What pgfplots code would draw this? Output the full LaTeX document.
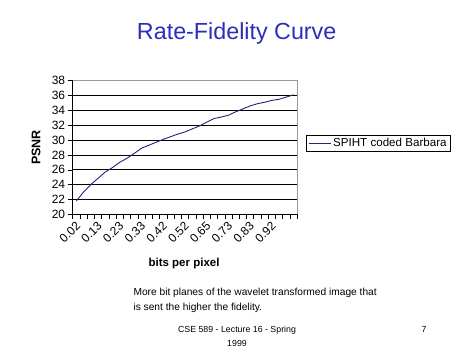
\documentclass[border=0pt]{standalone}
\usepackage{fontspec}
\setmainfont{Liberation Sans}
\usepackage{pgfplots}
\usepackage{pgfplotstable}
\pgfplotsset{compat=1.18}
\definecolor{titleblue}{RGB}{45,45,185}
\definecolor{navyline}{RGB}{35,35,120}
\pgfplotstableread{
x y
0 21.8
1 23.0
2 24.0
3 24.85
4 25.7
5 26.3
6 27.0
7 27.55
8 28.2
9 28.9
10 29.3
11 29.7
12 30.1
13 30.45
14 30.8
15 31.1
16 31.5
17 31.9
18 32.4
19 32.9
20 33.1
21 33.35
22 33.8
23 34.2
24 34.6
25 34.9
26 35.1
27 35.35
28 35.5
29 35.8
30 36.1
}\psnrdata
\begin{document}
\begin{tikzpicture}
\useasboundingbox (0pt,0pt) rectangle (474pt,-355pt);
\node[anchor=base, text=titleblue, font=\fontsize{23.3}{28}\selectfont] at (236.7pt,-39.3pt) {Rate-Fidelity Curve};
\begin{axis}[
 at={(72.7pt,-214.3pt)}, anchor=south west,
 scale only axis, width=224.5pt, height=133.6pt,
 xmin=-0.5, xmax=30.5, ymin=20, ymax=38,
 ytick={20,22,...,38},
 xtick={-0.5,0.5,...,30.5}, xticklabels={},
 extra x ticks={0,3,...,27},
 extra x tick labels={0.02,0.13,0.23,0.33,0.42,0.52,0.65,0.73,0.83,0.92},
 extra x tick style={major tick length=0pt, tick label style={rotate=45, anchor=east, xshift=-2pt, yshift=-8pt}},
 tick align=outside, xtick pos=bottom, ytick pos=left,
 major tick length=5pt,
 tick style={black, line width=0.5pt},
 ymajorgrids, grid style={black, line width=0.6pt},
 axis line style={draw=none},
 /pgf/number format/assume math mode=true,
 tick label style={font=\fontsize{12}{14}\selectfont},
 yticklabel style={xshift=1pt},
 xlabel={bits per pixel}, ylabel={PSNR},
 label style={font=\bfseries\fontsize{11.5}{13}\selectfont},
 xlabel style={at={(axis description cs:0.496,-0.372)}, anchor=center},
 ylabel style={at={(axis description cs:-0.163,0.5)}, anchor=center, font=\bfseries\fontsize{12.5}{14}\selectfont},
 legend style={at={(axis description cs:1.039,0.5936)}, anchor=north west, draw=black, line width=0.6pt, font=\fontsize{11.6}{13}\selectfont, inner xsep=2pt, inner ysep=1.2pt},
 legend cell align=left,
 legend image code/.code={\draw[#1] (0pt,0pt) -- (22pt,0pt);},
 after end axis/.code={
   \draw[gray!80, line width=0.6pt] (rel axis cs:0,1) -- (rel axis cs:1,1) -- (rel axis cs:1,0);
   \draw[black, line width=0.6pt] (rel axis cs:0,1) -- (rel axis cs:0,0) -- (rel axis cs:1,0);
 },
]
\addplot[navyline, line width=0.9pt, mark=none] table[x=x, y=y] {\psnrdata};
\legend{SPIHT coded Barbara}
\end{axis}
\node[anchor=base west, font=\fontsize{10.2}{12}\selectfont] at (130pt,-295.5pt) {More bit planes of the wavelet transformed image that};
\node[anchor=base west, font=\fontsize{10.2}{12}\selectfont] at (130pt,-311pt) {is sent the higher the fidelity.};
\node[anchor=base, font=\fontsize{8.8}{10}\selectfont] at (237pt,-333pt) {CSE 589 - Lecture 16 - Spring};
\node[anchor=base, font=\fontsize{8.8}{10}\selectfont] at (237pt,-346pt) {1999};
\node[anchor=base, font=\fontsize{8.8}{10}\selectfont] at (424pt,-333pt) {7};
\end{tikzpicture}
\end{document}
